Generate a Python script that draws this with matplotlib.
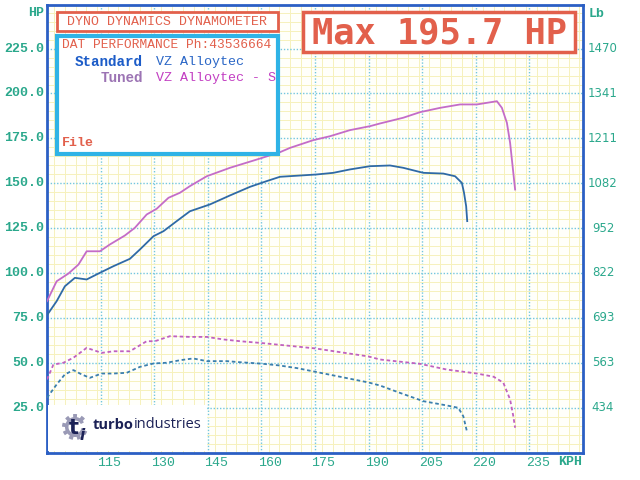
import numpy as np
import matplotlib
matplotlib.use("Agg")
import matplotlib.pyplot as plt
from matplotlib.patches import Rectangle, Polygon
from matplotlib.ticker import MultipleLocator
from matplotlib.transforms import blended_transform_factory

# ---------------- data ----------------
tuned_power_kph = [100, 102.7, 106, 108.8, 111.1, 114.8, 117.6, 121.8, 124.6, 127.9, 130.7, 134, 137.2,
                   140, 144.7, 151.2, 158.7, 165.2, 168, 174.5, 179.2, 184.8, 190.4, 193.2, 199.7,
                   204.4, 210, 215.6, 220.3, 225.9, 227.3, 228.7, 229.6, 230.3, 231]
tuned_power_hp = [84.3, 95.4, 99.7, 104.7, 112.1, 112.1, 115.9, 120.9, 125.2, 132.6, 135.8, 141.9, 144.7,
                  148.4, 153.9, 158.6, 163.2, 167.3, 169.7, 174, 176.2, 179.6, 181.8, 183.3, 186.5,
                  189.6, 192, 193.9, 193.9, 195.7, 192, 183.7, 172.5, 159.5, 146.5]

std_power_kph = [100, 102.7, 105, 107.8, 111.1, 114.8, 118.6, 123.2, 126, 129.8, 132.6, 136.3, 140,
                 145.6, 151.2, 156.8, 161.5, 165.2, 170.8, 175.5, 180.1, 184.8, 190.4, 196, 199.7,
                 205.3, 210.9, 214.2, 216.1, 216.7, 217.3, 217.6]
std_power_hp = [76.5, 84.3, 92.6, 97.3, 96.4, 100.1, 103.8, 107.9, 113.1, 120.5, 123.3, 128.9, 134.4,
                138.2, 143.2, 148, 151.2, 153.6, 154.3, 154.9, 155.8, 157.7, 159.5, 159.9, 158.6,
                155.8, 155.4, 153.9, 150.2, 144.7, 137.2, 128.9]

tuned_torque_kph = [100, 101.8, 104.6, 107.4, 111.1, 115.3, 118.6, 123.2, 127.9, 130.2, 134.4, 140,
                    144.7, 149.3, 154, 160, 165, 170, 175, 180, 185, 190, 193.2, 204.4, 211.9,
                    220.3, 225, 227.7, 229.6, 230.5, 231]
tuned_torque = [40.7, 49, 50, 52.8, 58.3, 55.5, 56.4, 56.4, 62, 62, 64.8, 64.4,
                64.4, 63, 62, 61, 60, 59, 58, 56.5, 55, 53.5, 51.8, 49.4, 46.2,
                44, 42.2, 38.9, 29.5, 20.2, 13.8]

std_torque_kph = [100, 102.7, 105, 107.4, 109.7, 112, 115.3, 118.6, 122.3, 126, 129.8, 133.5, 137.2,
                  140.9, 144.7, 150.3, 154, 160, 165, 170, 175, 180, 185, 190, 193.2, 198.8,
                  205.3, 211.9, 215.1, 216.5, 217.5]
std_torque = [30.5, 37.9, 43.5, 45.9, 43.5, 41.6, 44, 44, 44.4, 47.7, 49.6, 50, 51.4,
              52.4, 50.9, 50.9, 50.3, 49.5, 48.5, 47, 45, 43, 41, 39, 37.3, 33.2,
              28.6, 26.2, 24.9, 20.2, 11.9]

hp_ticks = [25, 50, 75, 100, 125, 150, 175, 200, 225]
lb_labels = ['434', '563', '693', '822', '952', '1082', '1211', '1341', '1470']
kph_ticks = [115, 130, 145, 160, 175, 190, 205, 220, 235]

# ---------------- figure ----------------
W, H = 640, 480
fig = plt.figure(figsize=(6.4, 4.8), dpi=100)
fig.patch.set_facecolor('white')

def fx(x):
    return x / W

def fy(y):
    return 1 - y / H

ax = fig.add_axes([fx(47), fy(452.5), 536 / W, 447.5 / H])
ax.set_xlim(100, 250)
ax.set_ylim(0, 249.3)
ax.set_facecolor('#fffffa')

ax.set_xticks(kph_ticks)
ax.set_yticks(hp_ticks)
ax.xaxis.set_minor_locator(MultipleLocator(3))
ax.yaxis.set_minor_locator(MultipleLocator(5))
ax.grid(which='minor', color='#f6f1bc', lw=0.7)
ax.grid(which='major', color='#72c6de', lw=1.0, ls=(0, (1, 1.3)))
ax.set_axisbelow(True)
ax.tick_params(which='both', length=0, labelbottom=False, labelleft=False)
for s in ax.spines.values():
    s.set_color('#2b5fc4')
    s.set_linewidth(2)

teal = '#2ba88c'
mono = 'Liberation Mono'

# curves
ax.plot(tuned_power_kph, tuned_power_hp, color='#c46cc8', lw=1.3, zorder=3)
ax.plot(std_power_kph, std_power_hp, color='#2f6aa6', lw=1.3, zorder=3)
ax.plot(tuned_torque_kph, tuned_torque, color='#c060c0', lw=1.3, ls=(0, (2, 1.5)), zorder=3)
ax.plot(std_torque_kph, std_torque, color='#3a7fae', lw=1.3, ls=(0, (2, 1.5)), zorder=3)

# left tick labels
bl = blended_transform_factory(ax.transAxes, ax.transData)
for v in hp_ticks:
    ax.text(-3 / 536, v, f'{v:.1f}', transform=bl, ha='right', va='center',
            fontsize=9.5, family=mono, fontweight='bold', color=teal, clip_on=False)
# right tick labels
for v, lab in zip(hp_ticks, lb_labels):
    ax.text((603 - 47) / 536, v, lab, transform=bl, ha='center', va='center',
            fontsize=8.5, family='DejaVu Sans', color=teal, clip_on=False)
# bottom tick labels
bb = blended_transform_factory(ax.transData, ax.transAxes)
for v in kph_ticks:
    ax.text(v - 1.0, -10 / 447.5, str(v), transform=bb, ha='left', va='center',
            fontsize=9.5, family=mono, color=teal, clip_on=False)

fig.text(fx(44), fy(13), 'HP', ha='right', va='center', fontsize=9.5, family=mono,
         fontweight='bold', color=teal)
fig.text(fx(589), fy(14), 'Lb', ha='left', va='center', fontsize=9.5, family=mono,
         fontweight='bold', color=teal)
fig.text(fx(558), fy(462), 'KPH', ha='left', va='center', fontsize=9.5, family=mono,
         fontweight='bold', color=teal)

salmon = '#e2604c'

def box(x0, y0, x1, y1, ec, lw):
    r = Rectangle((fx(x0), fy(y1)), fx(x1) - fx(x0), fy(y0) - fy(y1), transform=fig.transFigure,
                  facecolor='white', edgecolor=ec, lw=lw, zorder=5)
    fig.add_artist(r)

box(57, 12, 278, 31, salmon, 2)
box(57, 36, 278, 154, '#2fb3e6', 3)
box(303, 12, 575, 52, salmon, 2.5)

def ftxt(x, y, s, **kw):
    t = fig.text(fx(x), fy(y), s, va='center', zorder=6, **kw)
    return t

ftxt(67, 22, 'DYNO DYNAMICS DYNAMOMETER', ha='left', fontsize=9.5, family=mono, color=salmon)
ftxt(62, 45, 'DAT PERFORMANCE Ph:43536664', ha='left', fontsize=9.3, family=mono, color=salmon)
ftxt(75, 62, 'Standard', ha='left', fontsize=10.3, family=mono, fontweight='bold', color='#1c5cc8')
ftxt(156, 62, 'VZ Alloytec', ha='left', fontsize=9.6, family=mono, color='#2a66c6')
ftxt(101, 78, 'Tuned', ha='left', fontsize=10.3, family=mono, fontweight='bold', color='#9c74b4')
ftxt(156, 78, 'VZ Alloytec - S', ha='left', fontsize=9.6, family=mono, color='#c23ec2')
ftxt(62, 143, 'File', ha='left', fontsize=9.5, family=mono, fontweight='bold', color=salmon)
ftxt(439, 33, 'Max 195.7 HP', ha='center', fontsize=25.5, family='DejaVu Sans Mono',
     fontweight='bold', color=salmon)

# logo
lg = Rectangle((fx(48), fy(451)), fx(207) - fx(48), fy(405) - fy(451), transform=fig.transFigure,
               facecolor='white', edgecolor='none', zorder=5)
fig.add_artist(lg)
cx, cy, ro, ri = 75, 427, 13, 10
ang = np.linspace(np.pi * 0.15, np.pi * 1.95, 200)
rr = np.where((np.floor(ang / (2 * np.pi / 9) * 2) % 2) == 0, ro, ri)
outer = np.column_stack([fx(cx + rr * np.cos(ang)), fy(cy - rr * np.sin(ang))])
inner_r = 6.5
inner = np.column_stack([fx(cx + inner_r * np.cos(ang[::-1])), fy(cy - inner_r * np.sin(ang[::-1]))])
gear = Polygon(np.vstack([outer, inner]), closed=True, transform=fig.transFigure,
               facecolor='#9a9ab6', edgecolor='none', zorder=6)
fig.add_artist(gear)
ftxt(74, 428, 't', ha='center', fontsize=15, family='DejaVu Sans', fontweight='bold', color='#1b2156')
ftxt(82, 436, 'i', ha='center', fontsize=11, family='DejaVu Sans', fontweight='bold',
     style='italic', color='#1b2156')
t1 = ftxt(93, 425, 'turbo', ha='left', fontsize=10.5, family='Open Sans', fontweight='bold',
          color='#1b2156')
fig.canvas.draw()
bb1 = t1.get_window_extent()
ftxt(bb1.x1, 425, 'industries', ha='left', fontsize=10.5, family='Open Sans', color='#1b2156')

fig.savefig('out.png', dpi=100, facecolor='white')
